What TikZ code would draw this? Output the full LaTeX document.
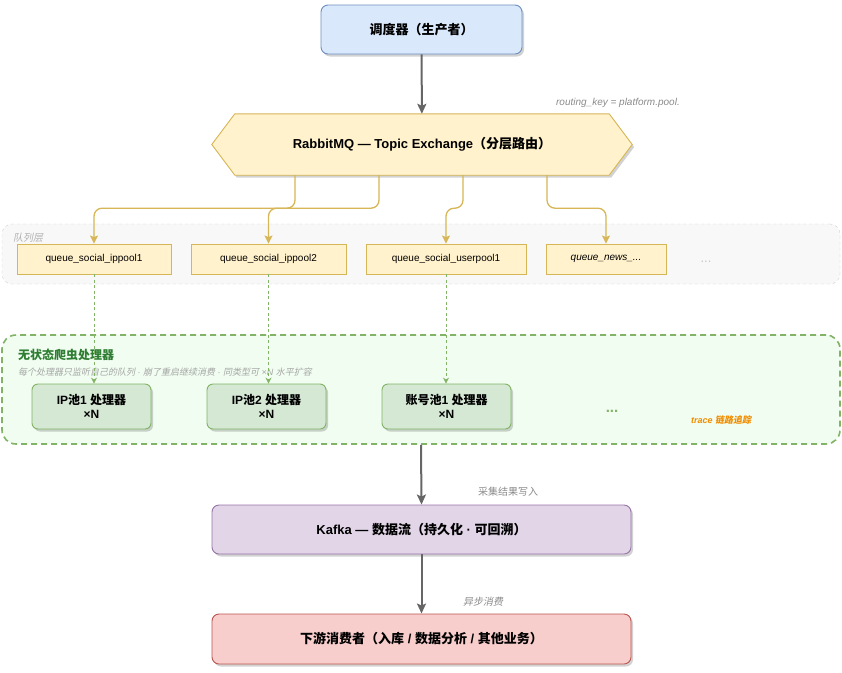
\documentclass[tikz,border=0pt]{standalone}
\usepackage{fontspec}
\setmainfont{Liberation Sans}
\newfontfamily\cjk{Noto Sans CJK SC}
\newfontfamily\cjkit[FakeSlant=0.2]{Noto Sans CJK SC}
\usetikzlibrary{arrows.meta,shadows}
\definecolor{prodF}{HTML}{DAE8FC}\definecolor{prodD}{HTML}{6C8EBF}
\definecolor{mqF}{HTML}{FFF2CC}\definecolor{mqD}{HTML}{D6B656}
\definecolor{procF}{HTML}{D5E8D4}\definecolor{procD}{HTML}{82B366}
\definecolor{kafF}{HTML}{E1D5E7}\definecolor{kafD}{HTML}{9673A6}
\definecolor{conF}{HTML}{F8CECC}\definecolor{conD}{HTML}{B85450}
\definecolor{flow}{HTML}{666666}
\definecolor{layerF}{HTML}{F0FDF0}
\definecolor{qlayerF}{HTML}{F8F8F8}\definecolor{qlayerD}{HTML}{D0D0D0}
\definecolor{ptitle}{HTML}{2E7D32}
\definecolor{traceC}{HTML}{F08C00}
\definecolor{note}{HTML}{8A8A8A}

\begin{document}
\begin{tikzpicture}[x=1pt,y=-1pt,
	shade/.style={drop shadow={shadow xshift=2pt,shadow yshift=-2.5pt,opacity=0.25,fill=black!70}},
	box/.style={draw, rounded corners=7pt, line width=0.9pt, shade, font=\bfseries\fontsize{13}{15}\selectfont},
	queue/.style={draw=mqD, fill=mqF, line width=0.9pt, minimum height=30pt, font=\fontsize{10}{12}\selectfont},
	proc/.style={draw=procD, fill=procF, rounded corners=6pt, line width=0.9pt, shade, minimum height=45pt, align=center, font=\bfseries\fontsize{12}{14}\selectfont},
	note/.style={inner sep=0pt, text=note, font=\itshape\fontsize{10}{12}\selectfont},
	main/.style={-{Stealth[length=10pt,width=9pt,inset=2pt]}, draw=flow, line width=2pt},
	route/.style={-{Stealth[length=8pt,width=8pt,inset=1.5pt]}, draw=mqD, line width=1.3pt, rounded corners=8pt},
	feed/.style={-{Stealth[length=6pt,width=6pt]}, draw=procD, line width=0.9pt, dash pattern=on 3pt off 2.5pt}]
	\useasboundingbox (0,0) rectangle (842,672);

	\node[draw=qlayerD, fill=qlayerF, dashed, rounded corners=10pt, minimum width=838pt, minimum height=60pt] (qlayer) at (421,254) {};
	\node[draw=procD, fill=layerF, line width=1.6pt, dash pattern=on 6pt off 4pt, rounded corners=14pt, minimum width=838pt, minimum height=109pt] (players) at (421,389.5) {};
	\node[note, text=gray!60, anchor=west] (qtitle) at (13,238) {\cjkit 队列层};
	\node[inner sep=0pt, anchor=west, text=ptitle, font=\bfseries\fontsize{12}{14}\selectfont] (ptitle) at (18,355) {\cjk 无状态爬虫处理器};
	\node[note, text=gray!70, anchor=west, font=\itshape\fontsize{9}{11}\selectfont] (psub) at (18,372) {{\cjkit 每个处理器只监听自己的队列} · {\cjkit 崩了重启继续消费} · {\cjkit 同类型可} ×N {\cjkit 水平扩容}};

	\node[box, draw=prodD, fill=prodF, minimum width=201pt, minimum height=49pt] (prod) at (421.5,29.5) {\cjk 调度器（生产者）};

	\node[minimum width=420pt, minimum height=61pt] (rmq) at (422,144.5) {};
	\path[draw=mqD, fill=mqF, line width=0.9pt, shade] (rmq.west) -- ([xshift=23pt]rmq.north west) -- ([xshift=-23pt]rmq.north east) -- (rmq.east) -- ([xshift=-23pt]rmq.south east) -- ([xshift=23pt]rmq.south west) -- cycle;
	\node[font=\bfseries\fontsize{13}{15}\selectfont] (rmqlabel) at (rmq) {RabbitMQ — Topic Exchange{\cjk（分层路由）}};
	\node[note, anchor=east] (rkey) at (680,103) {routing\_key = platform.pool.};

	\node[queue, minimum width=154pt] (q1) at (94,259) {queue\_social\_ippool1};
	\node[queue, minimum width=155pt] (q2) at (268.5,259) {queue\_social\_ippool2};
	\node[queue, minimum width=160pt] (q3) at (446,259) {queue\_social\_userpool1};
	\node[queue, minimum width=120pt, font=\itshape\fontsize{10}{12}\selectfont] (q4) at (606,259) {queue\_news\_...};
	\node[text=gray!45, font=\fontsize{13}{15}\selectfont] (qmore) at (706,262) {...};

	\node[proc, minimum width=119pt] (p1) at (91.5,406.5) {IP{\cjk 池}1 {\cjk 处理器}\\×N};
	\node[proc, minimum width=119pt] (p2) at (266.5,406.5) {IP{\cjk 池}2 {\cjk 处理器}\\×N};
	\node[proc, minimum width=129pt] (p3) at (446.5,406.5) {{\cjk 账号池}1 {\cjk 处理器}\\×N};
	\node[text=procD, font=\bfseries\fontsize{15}{17}\selectfont] (pmore) at (612,411) {...};
	\node[inner sep=0pt, anchor=west, text=traceC, font=\bfseries\itshape\fontsize{9}{11}\selectfont] (trace) at (691,420) {trace {\cjkit 链路追踪}};

	\node[box, draw=kafD, fill=kafF, minimum width=419pt, minimum height=49pt] (kafka) at (421.5,529.5) {Kafka — {\cjk 数据流（持久化} · {\cjk 可回溯）}};
	\node[box, draw=conD, fill=conF, minimum width=419pt, minimum height=50pt] (cons) at (421.5,639) {{\cjk 下游消费者（入库} / {\cjk 数据分析} / {\cjk 其他业务）}};
	\node[note, font=\fontsize{10}{12}\selectfont] (write) at (508,492) {\cjk 采集结果写入};
	\node[note] (async) at (483,602) {\cjkit 异步消费};

	\draw[main] (prod) -- (rmq);
	\foreach \dx/\q in {-127/q1,-43/q2,41/q3,125/q4} \draw[route] ([xshift=\dx pt]rmq.south) -- ++(0,33) -| (\q.north);
	\foreach \q/\p in {q1/p1,q2/p2,q3/p3} \draw[feed] (\q.south) -- (\q.south |- \p.north);
	\draw[main] (players.south) -- (kafka.north);
	\draw[main] (kafka) -- (cons);
\end{tikzpicture}
\end{document}
